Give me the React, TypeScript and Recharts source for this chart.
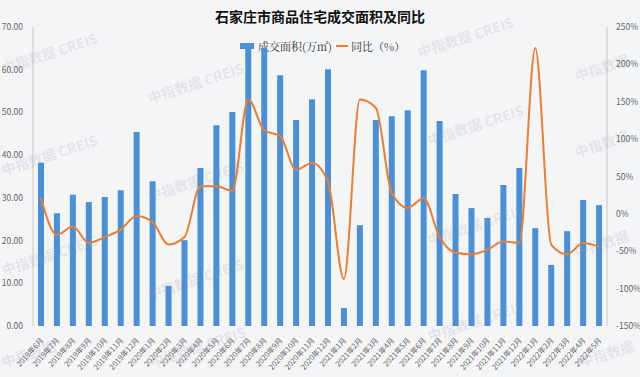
import React from "react";
import {
  ComposedChart, Bar, Line, XAxis, YAxis,
} from "recharts";

const months = [
  "2019年6月", "2019年7月", "2019年8月", "2019年9月", "2019年10月", "2019年11月",
  "2019年12月", "2020年1月", "2020年2月", "2020年3月", "2020年4月", "2020年5月",
  "2020年6月", "2020年7月", "2020年8月", "2020年9月", "2020年10月", "2020年11月",
  "2020年12月", "2021年1月", "2021年2月", "2021年3月", "2021年4月", "2021年5月",
  "2021年6月", "2021年7月", "2021年8月", "2021年9月", "2021年10月", "2021年11月",
  "2021年12月", "2022年1月", "2022年2月", "2022年3月", "2022年4月", "2022年5月",
];

// 成交面积 (万㎡)
const area = [
  38.2, 26.4, 30.7, 29.0, 30.2, 31.8,
  45.4, 33.9, 9.4, 20.1, 37.0, 47.0,
  50.1, 66.2, 65.1, 58.7, 48.2, 53.1,
  60.1, 4.2, 23.6, 48.2, 49.1, 50.5,
  59.9, 48.0, 30.9, 27.6, 25.3, 33.0,
  37.0, 22.9, 14.3, 22.2, 29.5, 28.3,
];

// 同比 (%)
const yoy = [
  21, -28, -17, -39, -31, -21,
  -3, -11, -41, -31, 37, 37,
  31, 153, 112, 104, 59, 68,
  43, -87, 153, 142, 28, 8,
  21, -31, -52, -54, -48, -37,
  -39, 222, -41, -54, -39, -44,
];

const leftTicks = [0, 10, 20, 30, 40, 50, 60, 70];
const rightTicks = [-150, -100, -50, 0, 50, 100, 150, 200, 250];

const data = months.map((m, i) => ({ month: m, area: area[i], yoy: yoy[i] }));

// watermark spots: [left, centre y, full text?]
const marks: [number, number, boolean][] = [
  [2, 68, true], [148, 98, true], [418, 52, true], [575, 76, false],
  [2, 170, true], [148, 196, true], [428, 140, true], [575, 152, false],
  [2, 270, true], [148, 294, true], [428, 240, true], [575, 252, false],
  [2, 362, false], [150, 362, true], [428, 336, true], [580, 362, false],
];

const tickFont = { fontSize: 8.5, fill: "#666", fontFamily: "'Noto Sans CJK SC', sans-serif" };

function XTick(props: any) {
  const { x, y, payload } = props;
  return (
    <g transform={`translate(${x},${y + 4})`}>
      <text
        transform="rotate(-48)"
        textAnchor="end"
        dy={4}
        fontSize={7.5}
        fill="#666"
        fontFamily="'Noto Sans CJK SC', sans-serif"
      >
        {payload.value}
      </text>
    </g>
  );
}

export default function App() {
  return (
    <div
      style={{
        position: "absolute", top: 0, left: 0,
        width: 640, height: 377, background: "#f4f5f7", overflow: "hidden",
      }}
    >
      <div
        style={{
          position: "absolute", top: 6, left: 0, width: 640, textAlign: "center",
          fontSize: 14, fontWeight: 700, color: "#111",
          fontFamily: "'Noto Sans CJK SC', sans-serif",
        }}
      >
        石家庄市商品住宅成交面积及同比
      </div>
      <div
        style={{
          position: "absolute", top: 38, left: 240, display: "flex", alignItems: "center",
          fontSize: 11, color: "#333", fontFamily: "'Noto Serif CJK SC', serif",
        }}
      >
        <span style={{ display: "inline-block", width: 14, height: 6, background: "#4a90d9", marginRight: 4 }} />
        <span>成交面积(万㎡)</span>
        <span style={{ display: "inline-block", width: 12, height: 2, background: "#ed7d31", margin: "0 3px 0 4px" }} />
        <span>同比（%）</span>
      </div>
      <ComposedChart
        width={640}
        height={377}
        data={data}
        margin={{ top: 27, right: 0, bottom: 0, left: 0 }}
      >
        <XAxis
          dataKey="month"
          interval={0}
          height={51}
          axisLine={false}
          tickLine={false}
          tick={<XTick />}
        />
        <YAxis
          yAxisId="left"
          width={33}
          domain={[0, 70]}
          ticks={leftTicks}
          tickFormatter={(v: number) => v.toFixed(2)}
          axisLine={{ stroke: "#c8c8c8" }}
          tickLine={false}
          tick={tickFont}
          tickMargin={4}
        />
        <YAxis
          yAxisId="right"
          orientation="right"
          width={33}
          domain={[-150, 250]}
          ticks={rightTicks}
          tickFormatter={(v: number) => `${v}%`}
          axisLine={{ stroke: "#c8c8c8" }}
          tickLine={false}
          tick={tickFont}
          tickMargin={3}
        />
        <Bar yAxisId="left" dataKey="area" fill="#4a90d9" barSize={6} isAnimationActive={false} />
        <Line
          yAxisId="right"
          dataKey="yoy"
          type="monotone"
          stroke="#ed7d31"
          strokeWidth={2}
          dot={false}
          isAnimationActive={false}
        />
      </ComposedChart>
      {marks.map(([x, y, full], i) => (
        <div
          key={i}
          style={{
            position: "absolute", left: x, top: y - 10, height: 20, lineHeight: "20px",
            whiteSpace: "nowrap",
            transform: "rotate(-18deg)", transformOrigin: "left center",
            fontSize: 14, fontWeight: 700, color: "rgba(140,140,150,0.16)",
            fontFamily: "'Noto Sans CJK SC', sans-serif", pointerEvents: "none",
          }}
        >
          {full ? "中指数据 CREIS" : "中指数据"}
        </div>
      ))}
    </div>
  );
}
